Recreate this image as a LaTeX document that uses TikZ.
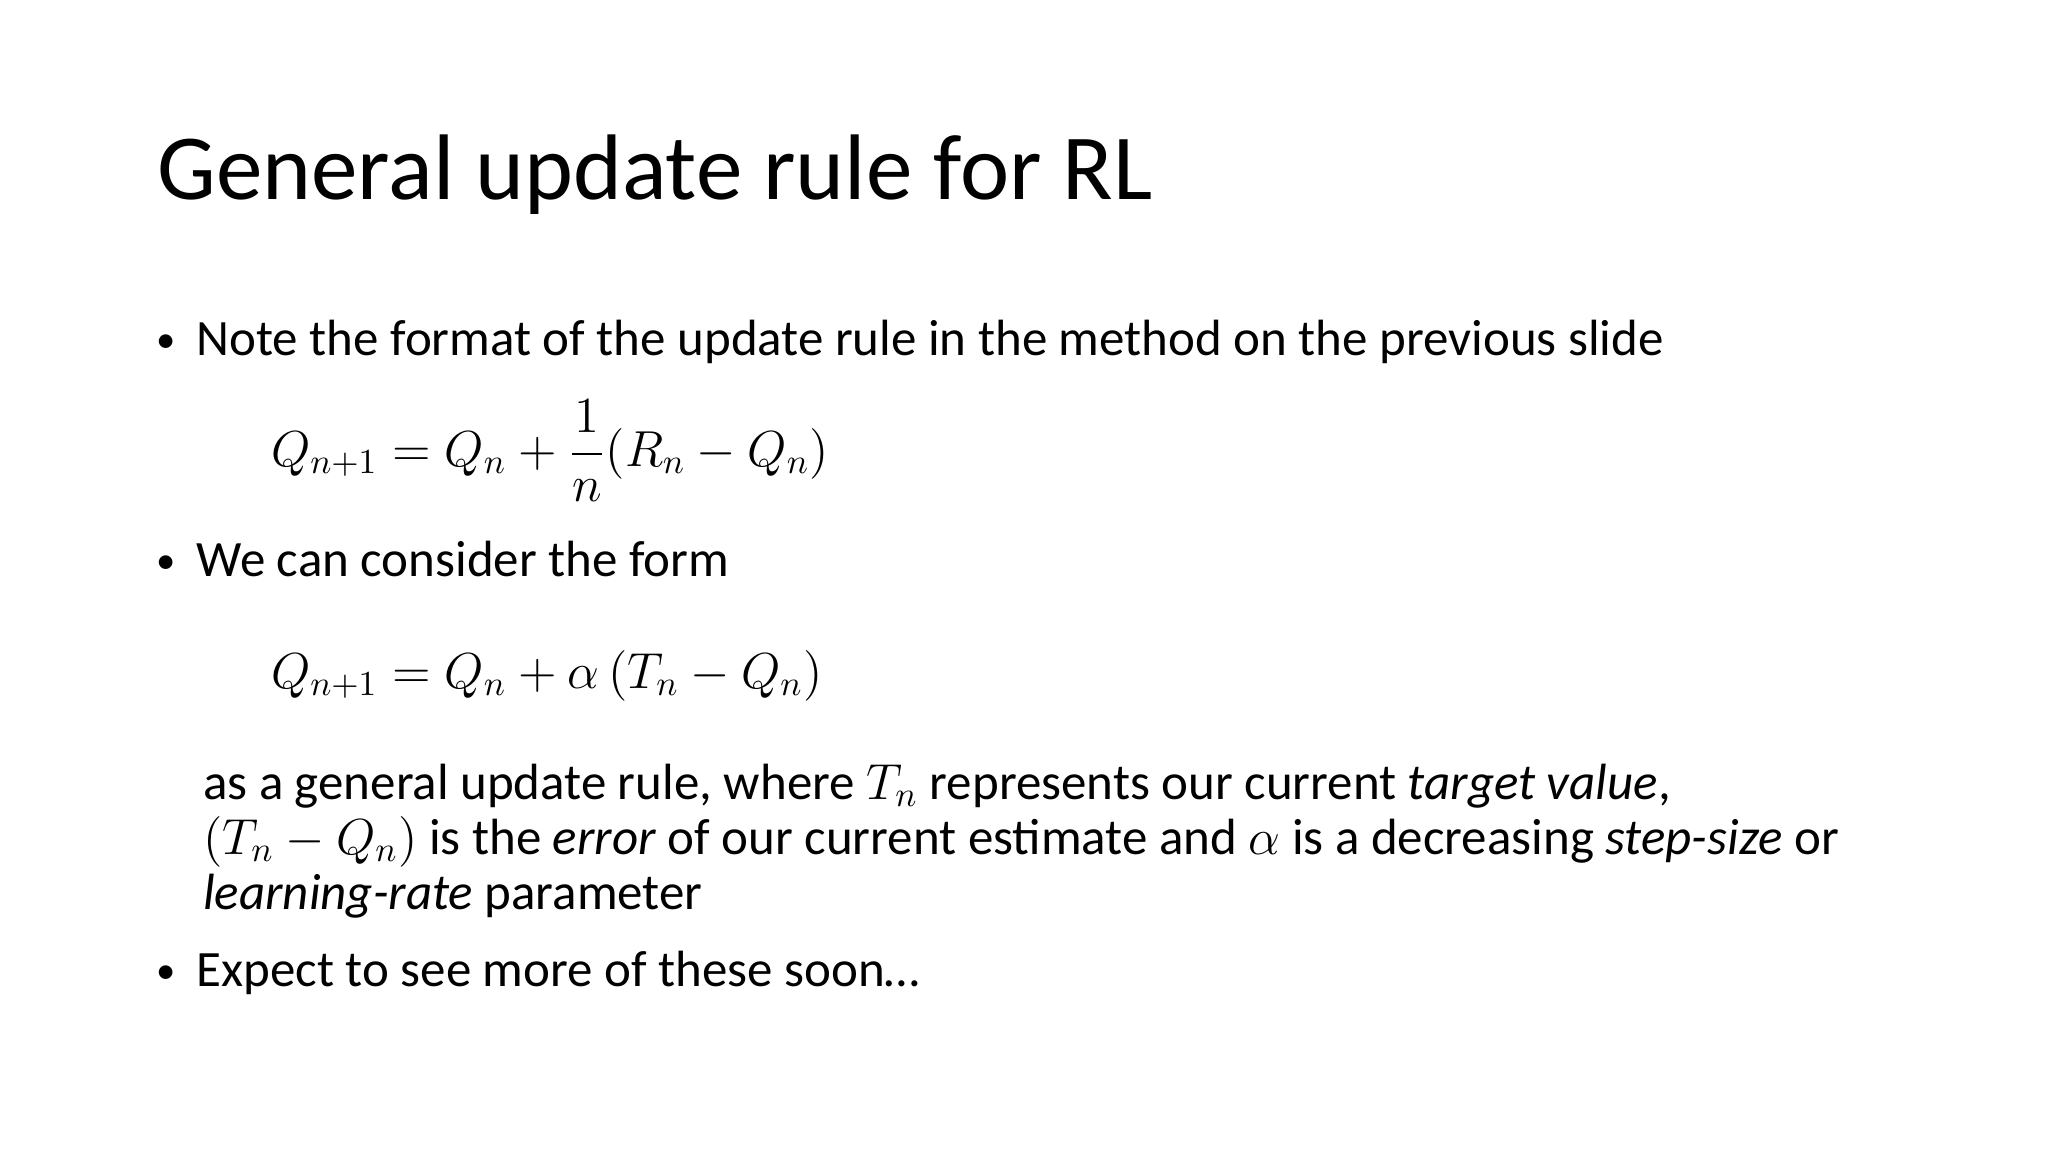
\documentclass[tikz,border=0pt]{standalone}
\usepackage{fontspec}
\setmainfont{Carlito}
\usepackage{amsmath}
\begin{document}
\begin{tikzpicture}[x=0.013061cm,y=-0.013061cm,
  txt/.style={anchor=base west,inner sep=0pt,font=\fontsize{14.5}{17}\selectfont},
  bul/.style={anchor=base west,inner sep=0pt,font=\fontsize{11}{13}\selectfont},
  eq/.style={anchor=base west,inner sep=0pt,font=\fontsize{14.5}{17}\selectfont}]
\useasboundingbox (0,0) rectangle (1568,882);
\node[anchor=base west,inner sep=0pt,font=\fontsize{26.5}{31}\selectfont] (title) at (120,153) {General update rule for RL};
\node[bul] (b1) at (119,270) {•};
\node[txt] (l1) at (150,272) {Note the format of the update rule in the method on the previous slide};
\node[eq] (e1) at (207,357) {$Q_{n+1} = Q_n + \dfrac{1}{n}(R_n - Q_n)$};
\node[bul] (b2) at (119,439) {•};
\node[txt] (l2) at (150,441) {We can consider the form};
\node[eq] (e2) at (207,527) {$Q_{n+1} = Q_n + \alpha\,(T_n - Q_n)$};
\node[txt] (p1) at (155,612) {as a general update rule, where $T_n$ represents our current \textit{target value},};
\node[txt] (p2) at (155,654) {$(T_n - Q_n)$ is the \textit{error} of our current estimate and $\alpha$ is a decreasing \textit{step-size} or};
\node[txt] (p3) at (155,696) {\textit{learning-rate} parameter};
\node[bul] (b3) at (119,753) {•};
\node[txt] (l3) at (150,755) {Expect to see more of these soon…};
\end{tikzpicture}
\end{document}
